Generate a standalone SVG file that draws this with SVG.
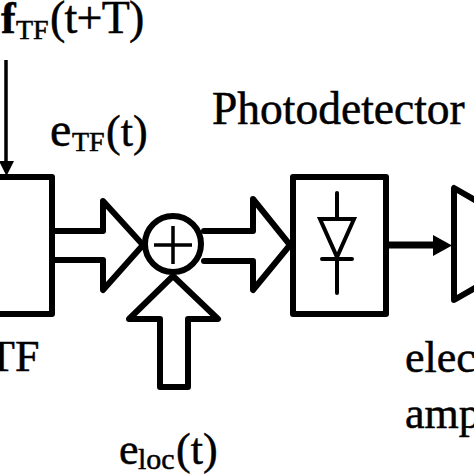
<svg xmlns="http://www.w3.org/2000/svg" width="474" height="474" viewBox="0 0 474 474">
<style>
text{font-family:"Liberation Serif","Times New Roman",serif;fill:#000;stroke:#000;stroke-width:.5px;font-size:44px}
.sub{font-size:28px}
.s{fill:none;stroke:#000;stroke-width:6;stroke-linejoin:round;stroke-linecap:round}
.t{fill:none;stroke:#000;stroke-width:4;stroke-linejoin:miter;stroke-linecap:round}
</style>
<rect width="474" height="474" fill="#fff"/>
<g id="connectors">
<path d="M6 60V165" fill="none" stroke="#000" stroke-width="3.5"/>
<path d="M-1 161H14L6.500 176Z" fill="#000"/>
<path class="s" d="M52 231H103V201L143 245L103 290V260H52"/>
<path class="s" d="M204 231H253V199L290 245L253 290V261H204"/>
<path class="s" d="M173 276L218 319H188V387H160V319H129Z"/>
<path d="M389 245H436" fill="none" stroke="#000" stroke-width="7"/>
<path d="M433 235L452 245.500L433 256Z" fill="#000"/>
</g>
<g id="node-tf">
<path class="s" d="M-6 177H52V314H-6"/>
<text x="-12" y="371">TF</text>
</g>
<g id="node-sum">
<circle cx="173" cy="244" r="28" fill="#fff" stroke="#000" stroke-width="6"/>
<path d="M154 245H192M173 226V264" fill="none" stroke="#000" stroke-width="3.500"/>
</g>
<g id="node-photodetector">
<rect class="s" x="293" y="177" width="93" height="137"/>
<path class="t" d="M337 193V219M337 259V293M322 259H352"/>
<path class="t" d="M320 219H354L337 257Z"/>
<text x="212" y="124" style="font-size:45.500px">Photodetector</text>
</g>
<g id="node-amplifier">
<path class="s" d="M480 203L454 188V300L480 285"/>
<text x="405" y="372">elec</text>
<text x="405" y="428">amp</text>
</g>
<g id="labels">
<text y="33"><tspan x="1" font-weight="bold">f</tspan><tspan class="sub" x="16" y="39">TF</tspan><tspan x="50" y="33" style="font-size:46px;letter-spacing:-.8px">(t+T)</tspan></text>
<text y="146"><tspan x="50" style="font-size:48px">e</tspan><tspan class="sub" x="72" y="151">TF</tspan><tspan x="106" y="146">(t)</tspan></text>
<text y="464"><tspan x="119">e</tspan><tspan class="sub" x="138" y="469" style="font-size:30px">loc</tspan><tspan x="176" y="464">(t)</tspan></text>
</g>
</svg>
